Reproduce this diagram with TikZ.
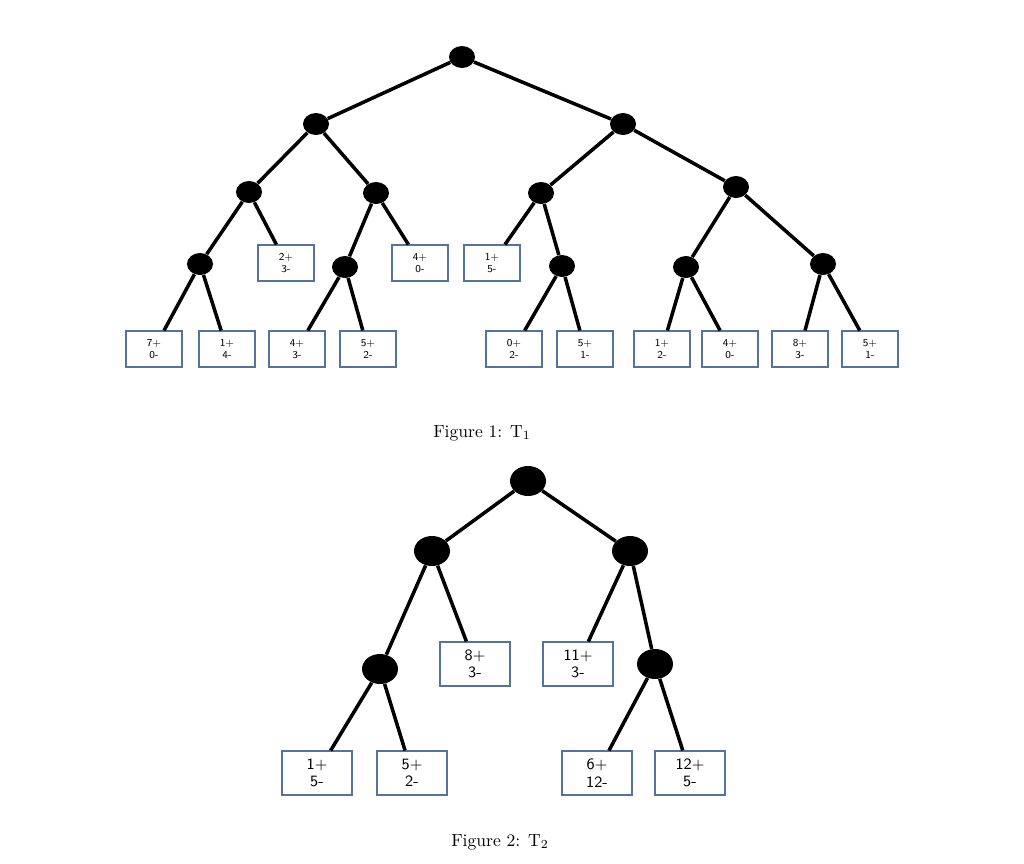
\documentclass[tikz,border=0pt]{standalone}
\usepackage{tikz}
\usetikzlibrary{shapes.geometric}
\definecolor{boxblue}{rgb}{0.33,0.45,0.62}
\begin{document}
\begin{tikzpicture}
  [x=0.02cm,y=-0.02cm,
   dot/.style={ellipse,fill=black,inner sep=0pt,minimum width=26*0.02cm,minimum height=22*0.02cm},
   bigdot/.style={ellipse,fill=black,inner sep=0pt,minimum width=36*0.02cm,minimum height=30*0.02cm},
   leaf/.style={draw=boxblue,line width=0.6pt,fill=white,minimum width=56*0.02cm,minimum height=36*0.02cm,inner sep=0pt,align=center,font=\fontsize{6}{6.5}\selectfont\sffamily},
   bigleaf/.style={leaf,minimum width=70*0.02cm,minimum height=44*0.02cm,font=\fontsize{9}{10}\selectfont\sffamily},
   edge/.style={line width=2pt}]
    \useasboundingbox (0,0) rectangle (1024,863);

    % tree T1
    \node[dot] (r)   at (462,57)  {};
    \node[dot] (l)   at (316,124) {};
    \node[dot] (rt)  at (623,124) {};
    \node[dot] (ll)  at (249,192) {};
    \node[dot] (lr)  at (376,193) {};
    \node[dot] (rl)  at (541,193) {};
    \node[dot] (rr)  at (736,187) {};
    \node[dot] (lll) at (200,264) {};
    \node[dot] (lrl) at (345,267) {};
    \node[dot] (rlr) at (562,266) {};
    \node[dot] (rrl) at (686,267) {};
    \node[dot] (rrr) at (823,264) {};

    \node[leaf] (llr) at (286,263) {2+\\3-};
    \node[leaf] (lrr) at (420,263) {4+\\0-};
    \node[leaf] (rll) at (492,263) {1+\\5-};
    \node[leaf] (a1) at (154,349) {7+\\0-};
    \node[leaf] (a2) at (227,349) {1+\\4-};
    \node[leaf] (a3) at (297,349) {4+\\3-};
    \node[leaf] (a4) at (368,349) {5+\\2-};
    \node[leaf] (a5) at (514,349) {0+\\2-};
    \node[leaf] (a6) at (585,349) {5+\\1-};
    \node[leaf] (a7) at (662,349) {1+\\2-};
    \node[leaf] (a8) at (730,349) {4+\\0-};
    \node[leaf] (a9) at (800,349) {8+\\3-};
    \node[leaf] (a10) at (870,349) {5+\\1-};

    \draw[edge] (r) -- (l);
    \draw[edge] (r) -- (rt);
    \draw[edge] (l) -- (ll);
    \draw[edge] (l) -- (lr);
    \draw[edge] (rt) -- (rl);
    \draw[edge] (rt) -- (rr);
    \draw[edge] (ll) -- (lll);
    \draw[edge] (ll) -- (llr);
    \draw[edge] (lr) -- (lrl);
    \draw[edge] (lr) -- (lrr);
    \draw[edge] (rl) -- (rll);
    \draw[edge] (rl) -- (rlr);
    \draw[edge] (rr) -- (rrl);
    \draw[edge] (rr) -- (rrr);
    \draw[edge] (lll) -- (a1);
    \draw[edge] (lll) -- (a2);
    \draw[edge] (lrl) -- (a3);
    \draw[edge] (lrl) -- (a4);
    \draw[edge] (rlr) -- (a5);
    \draw[edge] (rlr) -- (a6);
    \draw[edge] (rrl) -- (a7);
    \draw[edge] (rrl) -- (a8);
    \draw[edge] (rrr) -- (a9);
    \draw[edge] (rrr) -- (a10);

    \node[font=\fontsize{10}{11}\selectfont] (cap1) at (482,433) {Figure 1: T\textsubscript{1}};

    % tree T2
    \node[bigdot] (s)   at (528,481) {};
    \node[bigdot] (sl)  at (432,551) {};
    \node[bigdot] (sr)  at (630,551) {};
    \node[bigdot] (sll) at (380,669) {};
    \node[bigdot] (srr) at (655,664) {};
    \node[bigleaf] (slr) at (475,664) {8+\\3-};
    \node[bigleaf] (srl) at (578,664) {11+\\3-};
    \node[bigleaf] (b1) at (317,773) {1+\\5-};
    \node[bigleaf] (b2) at (412,773) {5+\\2-};
    \node[bigleaf] (b3) at (597,773) {6+\\12-};
    \node[bigleaf] (b4) at (690,773) {12+\\5-};

    \draw[edge] (s) -- (sl);
    \draw[edge] (s) -- (sr);
    \draw[edge] (sl) -- (sll);
    \draw[edge] (sl) -- (slr);
    \draw[edge] (sr) -- (srl);
    \draw[edge] (sr) -- (srr);
    \draw[edge] (sll) -- (b1);
    \draw[edge] (sll) -- (b2);
    \draw[edge] (srr) -- (b3);
    \draw[edge] (srr) -- (b4);

    \node[font=\fontsize{10}{11}\selectfont] (cap2) at (500,842) {Figure 2: T\textsubscript{2}};
\end{tikzpicture}
\end{document}
